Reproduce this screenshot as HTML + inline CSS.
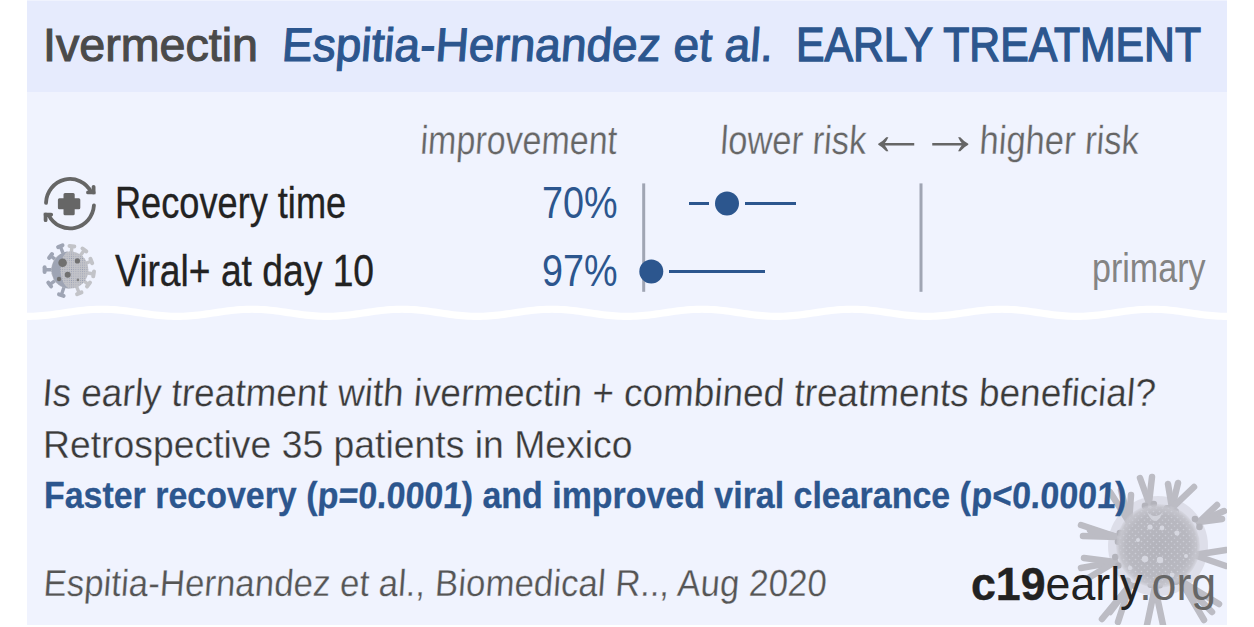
<!DOCTYPE html>
<html><head><meta charset="utf-8">
<style>
html,body{margin:0;padding:0;background:#fff;}
body{width:1254px;height:627px;position:relative;overflow:hidden;font-family:"Liberation Sans",sans-serif;}
#card{position:absolute;left:27px;top:0;width:1200px;height:625px;background:#f0f3fe;}
#hdr{position:absolute;left:0;top:1px;width:1200px;height:91px;background:#e6ebfd;}
#g{position:absolute;left:0;top:0;}
.t{position:absolute;white-space:nowrap;line-height:1;transform-origin:0 0;}
.ob{display:inline-block;font-style:normal;transform:skewX(-4.5deg);transform-origin:0 75%;}
</style></head>
<body>
<div id="card"><div id="hdr"></div></div>
<svg id="g" width="1254" height="627" viewBox="0 0 1254 627">
<defs>
<pattern id="dots" width="2.2" height="2.2" patternUnits="userSpaceOnUse"><circle cx="1.1" cy="1.1" r="0.5" fill="#9aa0b4"/></pattern>
<pattern id="spk" width="6" height="6" patternUnits="userSpaceOnUse"><circle cx="1.5" cy="1.5" r="0.8" fill="#cdced7"/><circle cx="4.5" cy="4.2" r="0.7" fill="#c9cad3"/></pattern>
<radialGradient id="vbody" cx="0.5" cy="0.5" r="0.5"><stop offset="0" stop-color="#b3b3bb"/><stop offset="0.75" stop-color="#b8b8c0"/><stop offset="0.92" stop-color="#c4c4cc"/><stop offset="1" stop-color="#c8c8d0" stop-opacity="0.3"/></radialGradient>
<clipPath id="cr"><rect x="27" y="0" width="1200" height="625"/></clipPath>
</defs>
<polyline points="27.0,316.35 30.0,316.32 33.0,316.24 36.0,316.10 39.0,315.91 42.0,315.67 45.0,315.39 48.0,315.06 51.0,314.70 54.0,314.31 57.0,313.90 60.0,313.47 63.0,313.02 66.0,312.58 69.0,312.13 72.0,311.70 75.0,311.29 78.0,310.90 81.0,310.54 84.0,310.21 87.0,309.93 90.0,309.69 93.0,309.50 96.0,309.36 99.0,309.28 102.0,309.25 105.0,309.28 108.0,309.36 111.0,309.50 114.0,309.69 117.0,309.93 120.0,310.21 123.0,310.54 126.0,310.90 129.0,311.29 132.0,311.70 135.0,312.13 138.0,312.58 141.0,313.02 144.0,313.47 147.0,313.90 150.0,314.31 153.0,314.70 156.0,315.06 159.0,315.39 162.0,315.67 165.0,315.91 168.0,316.10 171.0,316.24 174.0,316.32 177.0,316.35 180.0,316.32 183.0,316.24 186.0,316.10 189.0,315.91 192.0,315.67 195.0,315.39 198.0,315.06 201.0,314.70 204.0,314.31 207.0,313.90 210.0,313.47 213.0,313.02 216.0,312.58 219.0,312.13 222.0,311.70 225.0,311.29 228.0,310.90 231.0,310.54 234.0,310.21 237.0,309.93 240.0,309.69 243.0,309.50 246.0,309.36 249.0,309.28 252.0,309.25 255.0,309.28 258.0,309.36 261.0,309.50 264.0,309.69 267.0,309.93 270.0,310.21 273.0,310.54 276.0,310.90 279.0,311.29 282.0,311.70 285.0,312.13 288.0,312.58 291.0,313.02 294.0,313.47 297.0,313.90 300.0,314.31 303.0,314.70 306.0,315.06 309.0,315.39 312.0,315.67 315.0,315.91 318.0,316.10 321.0,316.24 324.0,316.32 327.0,316.35 330.0,316.32 333.0,316.24 336.0,316.10 339.0,315.91 342.0,315.67 345.0,315.39 348.0,315.06 351.0,314.70 354.0,314.31 357.0,313.90 360.0,313.47 363.0,313.02 366.0,312.58 369.0,312.13 372.0,311.70 375.0,311.29 378.0,310.90 381.0,310.54 384.0,310.21 387.0,309.93 390.0,309.69 393.0,309.50 396.0,309.36 399.0,309.28 402.0,309.25 405.0,309.28 408.0,309.36 411.0,309.50 414.0,309.69 417.0,309.93 420.0,310.21 423.0,310.54 426.0,310.90 429.0,311.29 432.0,311.70 435.0,312.13 438.0,312.58 441.0,313.02 444.0,313.47 447.0,313.90 450.0,314.31 453.0,314.70 456.0,315.06 459.0,315.39 462.0,315.67 465.0,315.91 468.0,316.10 471.0,316.24 474.0,316.32 477.0,316.35 480.0,316.32 483.0,316.24 486.0,316.10 489.0,315.91 492.0,315.67 495.0,315.39 498.0,315.06 501.0,314.70 504.0,314.31 507.0,313.90 510.0,313.47 513.0,313.02 516.0,312.58 519.0,312.13 522.0,311.70 525.0,311.29 528.0,310.90 531.0,310.54 534.0,310.21 537.0,309.93 540.0,309.69 543.0,309.50 546.0,309.36 549.0,309.28 552.0,309.25 555.0,309.28 558.0,309.36 561.0,309.50 564.0,309.69 567.0,309.93 570.0,310.21 573.0,310.54 576.0,310.90 579.0,311.29 582.0,311.70 585.0,312.13 588.0,312.58 591.0,313.02 594.0,313.47 597.0,313.90 600.0,314.31 603.0,314.70 606.0,315.06 609.0,315.39 612.0,315.67 615.0,315.91 618.0,316.10 621.0,316.24 624.0,316.32 627.0,316.35 630.0,316.32 633.0,316.24 636.0,316.10 639.0,315.91 642.0,315.67 645.0,315.39 648.0,315.06 651.0,314.70 654.0,314.31 657.0,313.90 660.0,313.47 663.0,313.02 666.0,312.58 669.0,312.13 672.0,311.70 675.0,311.29 678.0,310.90 681.0,310.54 684.0,310.21 687.0,309.93 690.0,309.69 693.0,309.50 696.0,309.36 699.0,309.28 702.0,309.25 705.0,309.28 708.0,309.36 711.0,309.50 714.0,309.69 717.0,309.93 720.0,310.21 723.0,310.54 726.0,310.90 729.0,311.29 732.0,311.70 735.0,312.13 738.0,312.58 741.0,313.02 744.0,313.47 747.0,313.90 750.0,314.31 753.0,314.70 756.0,315.06 759.0,315.39 762.0,315.67 765.0,315.91 768.0,316.10 771.0,316.24 774.0,316.32 777.0,316.35 780.0,316.32 783.0,316.24 786.0,316.10 789.0,315.91 792.0,315.67 795.0,315.39 798.0,315.06 801.0,314.70 804.0,314.31 807.0,313.90 810.0,313.47 813.0,313.02 816.0,312.58 819.0,312.13 822.0,311.70 825.0,311.29 828.0,310.90 831.0,310.54 834.0,310.21 837.0,309.93 840.0,309.69 843.0,309.50 846.0,309.36 849.0,309.28 852.0,309.25 855.0,309.28 858.0,309.36 861.0,309.50 864.0,309.69 867.0,309.93 870.0,310.21 873.0,310.54 876.0,310.90 879.0,311.29 882.0,311.70 885.0,312.13 888.0,312.58 891.0,313.02 894.0,313.47 897.0,313.90 900.0,314.31 903.0,314.70 906.0,315.06 909.0,315.39 912.0,315.67 915.0,315.91 918.0,316.10 921.0,316.24 924.0,316.32 927.0,316.35 930.0,316.32 933.0,316.24 936.0,316.10 939.0,315.91 942.0,315.67 945.0,315.39 948.0,315.06 951.0,314.70 954.0,314.31 957.0,313.90 960.0,313.47 963.0,313.02 966.0,312.58 969.0,312.13 972.0,311.70 975.0,311.29 978.0,310.90 981.0,310.54 984.0,310.21 987.0,309.93 990.0,309.69 993.0,309.50 996.0,309.36 999.0,309.28 1002.0,309.25 1005.0,309.28 1008.0,309.36 1011.0,309.50 1014.0,309.69 1017.0,309.93 1020.0,310.21 1023.0,310.54 1026.0,310.90 1029.0,311.29 1032.0,311.70 1035.0,312.13 1038.0,312.58 1041.0,313.02 1044.0,313.47 1047.0,313.90 1050.0,314.31 1053.0,314.70 1056.0,315.06 1059.0,315.39 1062.0,315.67 1065.0,315.91 1068.0,316.10 1071.0,316.24 1074.0,316.32 1077.0,316.35 1080.0,316.32 1083.0,316.24 1086.0,316.10 1089.0,315.91 1092.0,315.67 1095.0,315.39 1098.0,315.06 1101.0,314.70 1104.0,314.31 1107.0,313.90 1110.0,313.47 1113.0,313.02 1116.0,312.58 1119.0,312.13 1122.0,311.70 1125.0,311.29 1128.0,310.90 1131.0,310.54 1134.0,310.21 1137.0,309.93 1140.0,309.69 1143.0,309.50 1146.0,309.36 1149.0,309.28 1152.0,309.25 1155.0,309.28 1158.0,309.36 1161.0,309.50 1164.0,309.69 1167.0,309.93 1170.0,310.21 1173.0,310.54 1176.0,310.90 1179.0,311.29 1182.0,311.70 1185.0,312.13 1188.0,312.58 1191.0,313.02 1194.0,313.47 1197.0,313.90 1200.0,314.31 1203.0,314.70 1206.0,315.06 1209.0,315.39 1212.0,315.67 1215.0,315.91 1218.0,316.10 1221.0,316.24 1224.0,316.32 1227.0,316.35" fill="none" stroke="#fff" stroke-width="7.2"/>
<g clip-path="url(#cr)"><g><circle cx="1158" cy="546" r="50" fill="#d0d1da" opacity="0.6"/>
<line x1="1149.0" y1="503.0" x2="1140.0" y2="478.0" stroke="#bcbcc4" stroke-width="6.5" stroke-linecap="round"/>
<line x1="1149.0" y1="503.0" x2="1152.0" y2="477.0" stroke="#bcbcc4" stroke-width="6.5" stroke-linecap="round"/>
<circle cx="1145.0" cy="505.9" r="3.3" fill="#b3b3bb"/>
<circle cx="1153.8" cy="504.0" r="3.3" fill="#b3b3bb"/>
<line x1="1172.0" y1="508.0" x2="1168.0" y2="484.0" stroke="#bcbcc4" stroke-width="6.5" stroke-linecap="round"/>
<line x1="1172.0" y1="508.0" x2="1178.0" y2="483.0" stroke="#bcbcc4" stroke-width="6.5" stroke-linecap="round"/>
<line x1="1172.0" y1="508.0" x2="1194.0" y2="487.0" stroke="#bcbcc4" stroke-width="6.5" stroke-linecap="round"/>
<circle cx="1167.1" cy="508.3" r="3.3" fill="#b3b3bb"/>
<circle cx="1175.5" cy="511.4" r="3.3" fill="#b3b3bb"/>
<line x1="1199.0" y1="522.0" x2="1217.0" y2="505.0" stroke="#bcbcc4" stroke-width="6.5" stroke-linecap="round"/>
<line x1="1199.0" y1="522.0" x2="1224.0" y2="511.0" stroke="#bcbcc4" stroke-width="6.5" stroke-linecap="round"/>
<line x1="1199.0" y1="522.0" x2="1222.0" y2="519.0" stroke="#bcbcc4" stroke-width="6.5" stroke-linecap="round"/>
<circle cx="1195.0" cy="519.1" r="3.3" fill="#b3b3bb"/>
<circle cx="1199.5" cy="526.9" r="3.3" fill="#b3b3bb"/>
<line x1="1129.0" y1="522.0" x2="1110.0" y2="492.0" stroke="#bcbcc4" stroke-width="6.5" stroke-linecap="round"/>
<line x1="1129.0" y1="522.0" x2="1121.0" y2="490.0" stroke="#bcbcc4" stroke-width="6.5" stroke-linecap="round"/>
<line x1="1129.0" y1="522.0" x2="1131.0" y2="495.0" stroke="#bcbcc4" stroke-width="6.5" stroke-linecap="round"/>
<circle cx="1127.7" cy="526.7" r="3.3" fill="#b3b3bb"/>
<circle cx="1133.4" cy="519.8" r="3.3" fill="#b3b3bb"/>
<line x1="1117.0" y1="537.0" x2="1081.0" y2="525.0" stroke="#bcbcc4" stroke-width="6.5" stroke-linecap="round"/>
<line x1="1117.0" y1="537.0" x2="1083.0" y2="536.0" stroke="#bcbcc4" stroke-width="6.5" stroke-linecap="round"/>
<line x1="1117.0" y1="537.0" x2="1090.0" y2="530.0" stroke="#bcbcc4" stroke-width="6.5" stroke-linecap="round"/>
<circle cx="1118.0" cy="541.8" r="3.3" fill="#b3b3bb"/>
<circle cx="1119.9" cy="533.0" r="3.3" fill="#b3b3bb"/>
<line x1="1115.0" y1="562.0" x2="1081.0" y2="568.0" stroke="#bcbcc4" stroke-width="6.5" stroke-linecap="round"/>
<line x1="1115.0" y1="562.0" x2="1090.0" y2="577.0" stroke="#bcbcc4" stroke-width="6.5" stroke-linecap="round"/>
<line x1="1115.0" y1="562.0" x2="1084.0" y2="558.0" stroke="#bcbcc4" stroke-width="6.5" stroke-linecap="round"/>
<circle cx="1118.4" cy="565.5" r="3.3" fill="#b3b3bb"/>
<circle cx="1115.3" cy="557.1" r="3.3" fill="#b3b3bb"/>
<line x1="1130.0" y1="585.0" x2="1102.0" y2="619.0" stroke="#bcbcc4" stroke-width="6.5" stroke-linecap="round"/>
<line x1="1130.0" y1="585.0" x2="1118.0" y2="622.0" stroke="#bcbcc4" stroke-width="6.5" stroke-linecap="round"/>
<line x1="1130.0" y1="585.0" x2="1110.0" y2="612.0" stroke="#bcbcc4" stroke-width="6.5" stroke-linecap="round"/>
<circle cx="1134.8" cy="586.0" r="3.3" fill="#b3b3bb"/>
<circle cx="1127.5" cy="580.8" r="3.3" fill="#b3b3bb"/>
<line x1="1155.0" y1="587.0" x2="1147.0" y2="625.0" stroke="#bcbcc4" stroke-width="6.5" stroke-linecap="round"/>
<line x1="1155.0" y1="587.0" x2="1163.0" y2="625.0" stroke="#bcbcc4" stroke-width="6.5" stroke-linecap="round"/>
<circle cx="1159.6" cy="585.3" r="3.3" fill="#b3b3bb"/>
<circle cx="1150.7" cy="584.7" r="3.3" fill="#b3b3bb"/>
<line x1="1181.0" y1="581.0" x2="1204.0" y2="620.0" stroke="#bcbcc4" stroke-width="6.5" stroke-linecap="round"/>
<line x1="1181.0" y1="581.0" x2="1219.0" y2="604.0" stroke="#bcbcc4" stroke-width="6.5" stroke-linecap="round"/>
<line x1="1181.0" y1="581.0" x2="1212.0" y2="612.0" stroke="#bcbcc4" stroke-width="6.5" stroke-linecap="round"/>
<circle cx="1183.7" cy="576.9" r="3.3" fill="#b3b3bb"/>
<circle cx="1176.1" cy="581.8" r="3.3" fill="#b3b3bb"/>
<line x1="1194.0" y1="555.0" x2="1226.0" y2="550.0" stroke="#bcbcc4" stroke-width="6.5" stroke-linecap="round"/>
<line x1="1194.0" y1="555.0" x2="1226.0" y2="566.0" stroke="#bcbcc4" stroke-width="6.5" stroke-linecap="round"/>
<circle cx="1193.2" cy="550.1" r="3.3" fill="#b3b3bb"/>
<circle cx="1191.0" cy="558.9" r="3.3" fill="#b3b3bb"/>
<circle cx="1158" cy="546" r="42" fill="url(#vbody)"/>
<circle cx="1158" cy="546" r="40" fill="url(#spk)"/>
<circle cx="1145" cy="559" r="3.2" fill="#d6d7e0"/>
<circle cx="1160" cy="560" r="3.2" fill="#d6d7e0"/>
<circle cx="1150" cy="527" r="2.6" fill="#d6d7e0"/>
<circle cx="1162" cy="528" r="2.4" fill="#d6d7e0"/>
<circle cx="1138" cy="540" r="2" fill="#d6d7e0"/>
<circle cx="1177" cy="533" r="2.5" fill="#d6d7e0"/>
<circle cx="1172" cy="575" r="2.4" fill="#d6d7e0"/>
<circle cx="1130" cy="568" r="2.2" fill="#d6d7e0"/>
<circle cx="1186" cy="556" r="2" fill="#d6d7e0"/>
<path d="M1147,512 Q1155,530 1163,512 Q1155,520 1147,512 z" fill="#d6d7e0" opacity="0.8"/></g></g>
<g fill="none" stroke="#666" stroke-width="3.8" stroke-linecap="round" stroke-linejoin="miter">
<path d="M46.01,202.84 A24.0,24.7 0 0 1 91.19,192.10 L93.6,192.4"/>
<path d="M88.0,192.4 L93.6,192.4 L93.6,186.8"/>
<path d="M93.94,205.42 A24.0,24.7 0 0 1 48.81,215.30 L45.6,214.6"/>
<path d="M51.2,214.6 L45.6,214.6 L45.6,220.2"/>
</g>
<path fill="#666" d="M65,192.9 h8.2 a1.5,1.5 0 0 1 1.5,1.5 v3.9 h4.1 a1.5,1.5 0 0 1 1.5,1.5 v7.9 a1.5,1.5 0 0 1 -1.5,1.5 h-4.1 v4.6 a1.5,1.5 0 0 1 -1.5,1.5 h-8.2 a1.5,1.5 0 0 1 -1.5,-1.5 v-4.6 h-4.1 a1.5,1.5 0 0 1 -1.5,-1.5 v-7.9 a1.5,1.5 0 0 1 1.5,-1.5 h4.1 v-3.9 a1.5,1.5 0 0 1 1.5,-1.5 z"/>
<line x1="63.6" y1="254.6" x2="60.7" y2="247.3" stroke="#9ea4b4" stroke-width="3.4"/>
<line x1="62.5" y1="245.3" x2="58.1" y2="247.1" stroke="#9ea4b4" stroke-width="4" stroke-linecap="round"/>
<line x1="71.3" y1="253.5" x2="71.8" y2="247.4" stroke="#c2c3c8" stroke-width="3.4"/>
<line x1="74.3" y1="246.4" x2="69.5" y2="246.0" stroke="#c2c3c8" stroke-width="4" stroke-linecap="round"/>
<line x1="79.6" y1="256.6" x2="83.7" y2="250.9" stroke="#c2c3c8" stroke-width="3.4"/>
<line x1="86.3" y1="251.3" x2="82.5" y2="248.5" stroke="#c2c3c8" stroke-width="4" stroke-linecap="round"/>
<line x1="85.1" y1="263.6" x2="90.2" y2="261.5" stroke="#c2c3c8" stroke-width="3.4"/>
<line x1="92.2" y1="263.2" x2="90.4" y2="258.8" stroke="#c2c3c8" stroke-width="4" stroke-linecap="round"/>
<line x1="86.2" y1="272.7" x2="92.4" y2="273.7" stroke="#c2c3c8" stroke-width="3.4"/>
<line x1="93.2" y1="276.3" x2="94.0" y2="271.5" stroke="#c2c3c8" stroke-width="4" stroke-linecap="round"/>
<line x1="82.9" y1="280.2" x2="87.6" y2="283.8" stroke="#c2c3c8" stroke-width="3.4"/>
<line x1="87.0" y1="286.4" x2="90.0" y2="282.6" stroke="#c2c3c8" stroke-width="4" stroke-linecap="round"/>
<line x1="76.1" y1="285.4" x2="78.8" y2="292.2" stroke="#c2c3c8" stroke-width="3.4"/>
<line x1="77.1" y1="294.2" x2="81.5" y2="292.4" stroke="#c2c3c8" stroke-width="4" stroke-linecap="round"/>
<line x1="64.5" y1="285.7" x2="61.7" y2="294.0" stroke="#9ea4b4" stroke-width="3.4"/>
<line x1="59.0" y1="294.3" x2="63.6" y2="295.9" stroke="#9ea4b4" stroke-width="4" stroke-linecap="round"/>
<line x1="56.3" y1="279.7" x2="50.7" y2="283.8" stroke="#9ea4b4" stroke-width="3.4"/>
<line x1="48.3" y1="282.6" x2="51.1" y2="286.4" stroke="#9ea4b4" stroke-width="4" stroke-linecap="round"/>
<line x1="53.2" y1="269.8" x2="45.8" y2="269.7" stroke="#9ea4b4" stroke-width="3.4"/>
<line x1="44.6" y1="267.3" x2="44.6" y2="272.1" stroke="#9ea4b4" stroke-width="4" stroke-linecap="round"/>
<line x1="56.4" y1="260.2" x2="51.6" y2="256.6" stroke="#9ea4b4" stroke-width="3.4"/>
<line x1="52.0" y1="254.0" x2="49.2" y2="257.8" stroke="#9ea4b4" stroke-width="4" stroke-linecap="round"/>
<circle cx="69.8" cy="270.0" r="18.6" fill="#c2c3c8"/>
<circle cx="69.8" cy="270.0" r="18.6" fill="url(#dots)"/>
<path d="M67.8,251.5 A18.6,18.6 0 0 0 71.3,288.5 A11,19 0 0 1 67.8,251.5 z" fill="#9ea4b4"/>
<circle cx="62.6" cy="262.8" r="4.3" fill="#707070"/>
<circle cx="77.4" cy="260.9" r="2.6" fill="#707070"/>
<circle cx="67.7" cy="274.8" r="3" fill="#707070"/>
<circle cx="59" cy="279" r="2.2" fill="#707070"/>
<circle cx="77.9" cy="279.9" r="1.3" fill="#808080"/>

<g fill="#a0a5b3"><rect x="642.2" y="183.4" width="3" height="108.4"/><rect x="919.5" y="183.4" width="3" height="108.4"/></g>
<g fill="#2c568e">
<rect x="689" y="202" width="20" height="3"/><rect x="745" y="202" width="51" height="3"/>
<circle cx="727" cy="203.6" r="12"/>
<rect x="669" y="270" width="96" height="3"/>
<circle cx="651.3" cy="271.5" r="12"/>
</g>
</svg>
<div class="t" id="h1" style="left:43.48px;top:21.31px;font-size:47px;color:#4a4a4a;-webkit-text-stroke:1.1px #4a4a4a;transform:scaleX(0.9917);">Ivermectin</div>
<div class="t" id="h2" style="left:284.11px;top:21.31px;font-size:47px;color:#2c568e;-webkit-text-stroke:1.1px #2c568e;transform:scaleX(0.9798) skewX(-4.5deg);">Espitia-Hernandez et al.</div>
<div class="t" id="h3" style="left:796.41px;top:21.26px;font-size:48px;color:#2c568e;-webkit-text-stroke:1.4px #2c568e;transform:scaleX(0.8898);">EARLY TREATMENT</div>
<div class="t" id="imp" style="left:421.89px;top:120.78px;font-size:40.3px;color:#666;-webkit-text-stroke:0.3px #f0f3fe;transform:scaleX(0.8434) skewX(-4.5deg);">improvement</div>
<div class="t" id="lr" style="left:721.88px;top:120.78px;font-size:40.3px;color:#666;-webkit-text-stroke:0.3px #f0f3fe;transform:scaleX(0.8560) skewX(-4.5deg);">lower risk</div>
<div class="t" id="la" style="left:865.52px;top:103.50px;font-size:60px;color:#666;transform:scaleX(1.0137);">&#8592;</div>
<div class="t" id="ra" style="left:920.11px;top:103.50px;font-size:60px;color:#666;transform:scaleX(1.0143);">&#8594;</div>
<div class="t" id="hr" style="left:980.53px;top:120.78px;font-size:40.3px;color:#666;-webkit-text-stroke:0.3px #f0f3fe;transform:scaleX(0.8568) skewX(-4.5deg);">higher risk</div>
<div class="t" id="r1" style="left:115.39px;top:181.22px;font-size:44.5px;color:#222;-webkit-text-stroke:0.35px #222;transform:scaleX(0.8128);">Recovery time</div>
<div class="t" id="r2" style="left:114.84px;top:248.62px;font-size:44.5px;color:#222;-webkit-text-stroke:0.35px #222;transform:scaleX(0.8366);">Viral+ at day 10</div>
<div class="t" id="p1" style="left:542.24px;top:179.80px;font-size:45px;color:#2c568e;transform:scaleX(0.8392);">70%</div>
<div class="t" id="p2" style="left:542.32px;top:248.00px;font-size:45px;color:#2c568e;transform:scaleX(0.8393);">97%</div>
<div class="t" id="prim" style="left:1092.31px;top:248.96px;font-size:40.2px;color:#848484;transform:scaleX(0.8474);">primary</div>
<div class="t" id="l1" style="left:43.87px;top:372.88px;font-size:39px;color:#3a3a3a;-webkit-text-stroke:0.3px #f0f3fe;transform:scaleX(0.9467) skewX(-4.5deg);">Is early treatment with ivermectin + combined treatments beneficial?</div>
<div class="t" id="l2" style="left:43.13px;top:424.78px;font-size:39px;color:#3a3a3a;-webkit-text-stroke:0.3px #f0f3fe;transform:scaleX(0.9574);">Retrospective 35 patients in Mexico</div>
<div class="t" id="l3" style="left:43.71px;top:477.37px;font-size:37px;color:#2c568e;font-weight:bold;-webkit-text-stroke:0.3px #2c568e;transform:scaleX(0.9169);">Faster recovery (<i class="ob">p=0.0001</i>) and improved viral clearance (<i class="ob">p&lt;0.0001</i>)</div>
<div class="t" id="l4" style="left:45.06px;top:564.85px;font-size:37.5px;color:#555;-webkit-text-stroke:0.3px #f0f3fe;transform:scaleX(0.9299) skewX(-4.5deg);">Espitia-Hernandez et al., Biomedical R.., Aug 2020</div>
<div class="t" id="logo" style="left:971.33px;top:561.99px;font-size:45.6px;color:#222;transform:scaleX(0.9803);"><b style="-webkit-text-stroke:0.4px #222">c19</b>early<span style="color:#666">.org</span></div>
</body></html>
